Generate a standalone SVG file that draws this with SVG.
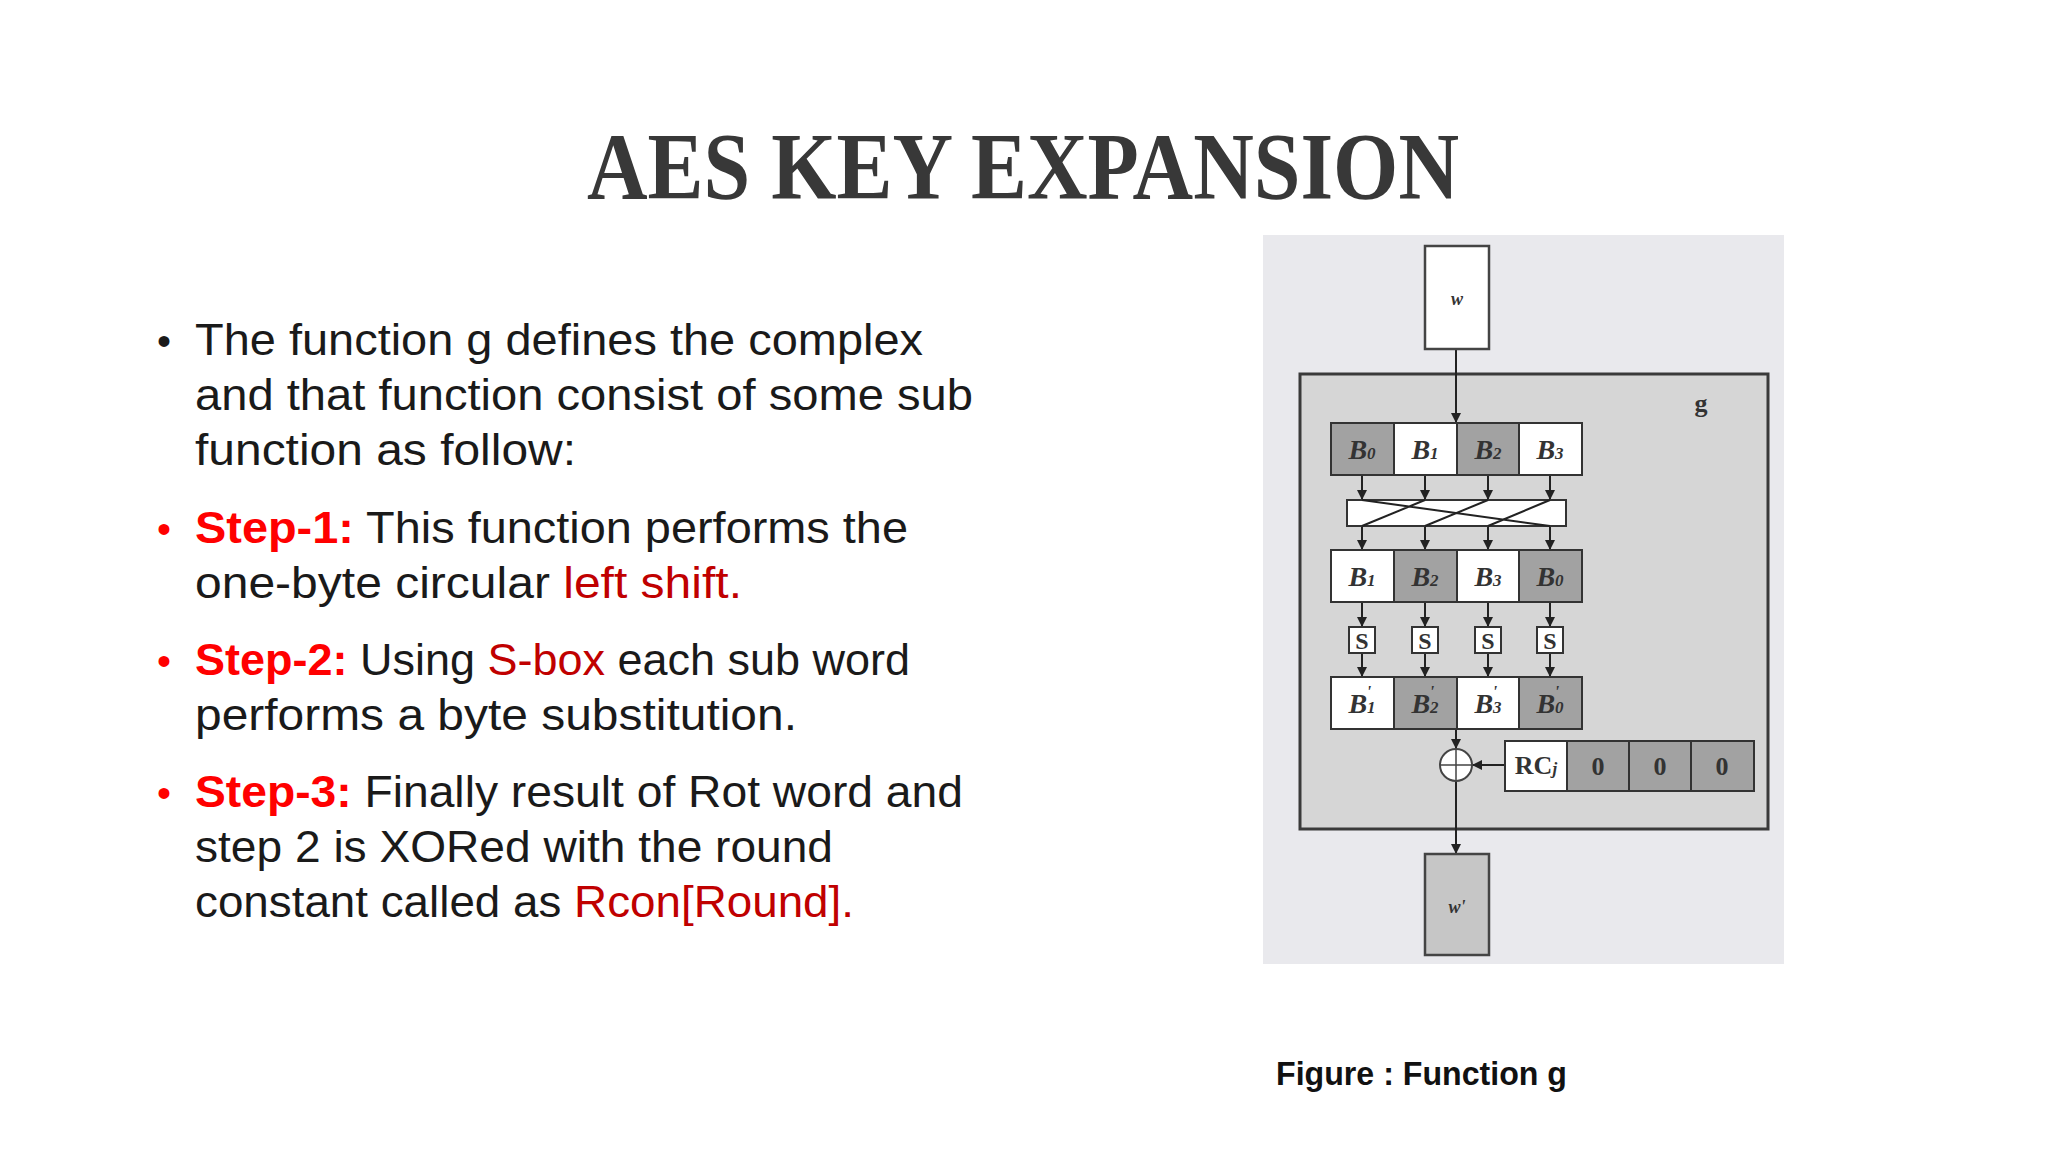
<svg xmlns="http://www.w3.org/2000/svg" width="2048" height="1152" viewBox="0 0 2048 1152">
<defs>
<marker id="ah" viewBox="0 0 10 10" refX="10" refY="5" markerWidth="5" markerHeight="5" orient="auto"><path d="M0,0 L10,5 L0,10 z" fill="#222"/></marker>
<style>
.body{font-family:"Liberation Sans",Arial,sans-serif;font-size:44px;fill:#1a1a1a}
.step{fill:#ff0000;font-weight:bold}
.dr{fill:#c00000}
.cell{stroke:#333;stroke-width:2}
.g{fill:#a2a2a2}.w{fill:#ffffff}
.bl{font-family:"Liberation Serif",serif;font-weight:bold;font-style:italic;font-size:28px;fill:#333;text-anchor:middle}
.sm{font-size:17px}
.ln{stroke:#222;stroke-width:2;fill:none}
</style>
</defs>
<rect width="2048" height="1152" fill="#ffffff"/>
<text x="1023" y="199" text-anchor="middle" font-family="Liberation Serif,serif" font-weight="bold" font-size="96" fill="#383838" textLength="872" lengthAdjust="spacingAndGlyphs">AES KEY EXPANSION</text>
<g id="bullets" class="body">
<text x="157" y="355" font-size="40">•</text>
<text x="195" y="355" textLength="728" lengthAdjust="spacingAndGlyphs">The function g defines the complex</text>
<text x="195" y="410" textLength="778" lengthAdjust="spacingAndGlyphs">and that function consist of some sub</text>
<text x="195" y="465" textLength="381" lengthAdjust="spacingAndGlyphs">function as follow:</text>
<text x="157" y="543" font-size="40" fill="#ff0000">•</text>
<text x="195" y="543" textLength="713" lengthAdjust="spacingAndGlyphs"><tspan class="step">Step-1:</tspan> This function performs the</text>
<text x="195" y="598" textLength="547" lengthAdjust="spacingAndGlyphs">one-byte circular <tspan class="dr">left shift.</tspan></text>
<text x="157" y="675" font-size="40" fill="#ff0000">•</text>
<text x="195" y="675" textLength="715" lengthAdjust="spacingAndGlyphs"><tspan class="step">Step-2:</tspan> Using <tspan class="dr">S-box</tspan> each sub word</text>
<text x="195" y="730" textLength="602" lengthAdjust="spacingAndGlyphs">performs a byte substitution.</text>
<text x="157" y="807" font-size="40" fill="#ff0000">•</text>
<text x="195" y="807" textLength="768" lengthAdjust="spacingAndGlyphs"><tspan class="step">Step-3:</tspan> Finally result of Rot word and</text>
<text x="195" y="862" textLength="638" lengthAdjust="spacingAndGlyphs">step 2 is XORed with the round</text>
<text x="195" y="917" textLength="659" lengthAdjust="spacingAndGlyphs">constant called as <tspan class="dr">Rcon[Round].</tspan></text>
</g>
<rect x="1263" y="235" width="521" height="729" fill="#e9e9ed"/>
<g id="gbox"><rect x="1300" y="374" width="468" height="455" fill="#d6d6d6" stroke="#3a3a3a" stroke-width="3"/>
<text x="1701" y="412" font-family="Liberation Serif,serif" font-weight="bold" font-size="26" fill="#333" text-anchor="middle">g</text></g>
<g id="connectors">
<line class="ln" x1="1456" y1="349" x2="1456" y2="423" marker-end="url(#ah)"/>
<line class="ln" x1="1362" y1="475" x2="1362" y2="500" marker-end="url(#ah)"/>
<line class="ln" x1="1425" y1="475" x2="1425" y2="500" marker-end="url(#ah)"/>
<line class="ln" x1="1488" y1="475" x2="1488" y2="500" marker-end="url(#ah)"/>
<line class="ln" x1="1550" y1="475" x2="1550" y2="500" marker-end="url(#ah)"/>
<line class="ln" x1="1362" y1="526" x2="1362" y2="550" marker-end="url(#ah)"/>
<line class="ln" x1="1425" y1="526" x2="1425" y2="550" marker-end="url(#ah)"/>
<line class="ln" x1="1488" y1="526" x2="1488" y2="550" marker-end="url(#ah)"/>
<line class="ln" x1="1550" y1="526" x2="1550" y2="550" marker-end="url(#ah)"/>
<line class="ln" x1="1362" y1="602" x2="1362" y2="627" marker-end="url(#ah)"/>
<line class="ln" x1="1425" y1="602" x2="1425" y2="627" marker-end="url(#ah)"/>
<line class="ln" x1="1488" y1="602" x2="1488" y2="627" marker-end="url(#ah)"/>
<line class="ln" x1="1550" y1="602" x2="1550" y2="627" marker-end="url(#ah)"/>
<line class="ln" x1="1362" y1="653" x2="1362" y2="677" marker-end="url(#ah)"/>
<line class="ln" x1="1425" y1="653" x2="1425" y2="677" marker-end="url(#ah)"/>
<line class="ln" x1="1488" y1="653" x2="1488" y2="677" marker-end="url(#ah)"/>
<line class="ln" x1="1550" y1="653" x2="1550" y2="677" marker-end="url(#ah)"/>
<line class="ln" x1="1456" y1="729" x2="1456" y2="749" marker-end="url(#ah)"/>
<line class="ln" x1="1505" y1="765" x2="1472" y2="765" marker-end="url(#ah)"/>
<line class="ln" x1="1456" y1="781" x2="1456" y2="854" marker-end="url(#ah)"/>
</g>
<g id="w"><rect x="1425" y="246" width="64" height="103" fill="#fff" stroke="#444" stroke-width="2.5"/>
<text x="1457" y="305" font-family="Liberation Serif,serif" font-weight="bold" font-style="italic" font-size="18" fill="#333" text-anchor="middle">w</text></g>
<g id="row1">
<rect class="cell g" x="1331" y="423" width="63" height="52"/><rect class="cell w" x="1394" y="423" width="63" height="52"/><rect class="cell g" x="1457" y="423" width="62" height="52"/><rect class="cell w" x="1519" y="423" width="63" height="52"/>
<text class="bl" x="1362" y="459">B<tspan class="sm">0</tspan></text><text class="bl" x="1425" y="459">B<tspan class="sm">1</tspan></text><text class="bl" x="1488" y="459">B<tspan class="sm">2</tspan></text><text class="bl" x="1550" y="459">B<tspan class="sm">3</tspan></text>
</g>
<g id="rot"><rect x="1347" y="500" width="219" height="26" fill="#fff" stroke="#333" stroke-width="2"/>
<path class="ln" d="M1362,500 L1550,526 M1425,500 L1362,526 M1488,500 L1425,526 M1550,500 L1488,526" stroke-width="1.5"/></g>
<g id="row2">
<rect class="cell w" x="1331" y="550" width="63" height="52"/><rect class="cell g" x="1394" y="550" width="63" height="52"/><rect class="cell w" x="1457" y="550" width="62" height="52"/><rect class="cell g" x="1519" y="550" width="63" height="52"/>
<text class="bl" x="1362" y="586">B<tspan class="sm">1</tspan></text><text class="bl" x="1425" y="586">B<tspan class="sm">2</tspan></text><text class="bl" x="1488" y="586">B<tspan class="sm">3</tspan></text><text class="bl" x="1550" y="586">B<tspan class="sm">0</tspan></text>
</g>
<g id="sboxes" font-family="Liberation Serif,serif" font-weight="bold" font-size="24" fill="#333" text-anchor="middle">
<rect class="cell w" x="1349" y="627" width="26" height="26" stroke-width="1.5"/><rect class="cell w" x="1412" y="627" width="26" height="26" stroke-width="1.5"/><rect class="cell w" x="1475" y="627" width="26" height="26" stroke-width="1.5"/><rect class="cell w" x="1537" y="627" width="26" height="26" stroke-width="1.5"/>
<text x="1362" y="649">S</text><text x="1425" y="649">S</text><text x="1488" y="649">S</text><text x="1550" y="649">S</text>
</g>
<g id="row3">
<rect class="cell w" x="1331" y="677" width="63" height="52"/><rect class="cell g" x="1394" y="677" width="63" height="52"/><rect class="cell w" x="1457" y="677" width="62" height="52"/><rect class="cell g" x="1519" y="677" width="63" height="52"/>
<text class="bl" x="1362" y="713">B<tspan class="sm">1</tspan><tspan class="sm" dx="-9" dy="-16">'</tspan></text><text class="bl" x="1425" y="713">B<tspan class="sm">2</tspan><tspan class="sm" dx="-9" dy="-16">'</tspan></text><text class="bl" x="1488" y="713">B<tspan class="sm">3</tspan><tspan class="sm" dx="-9" dy="-16">'</tspan></text><text class="bl" x="1550" y="713">B<tspan class="sm">0</tspan><tspan class="sm" dx="-9" dy="-16">'</tspan></text>
</g>
<g id="xor"><circle cx="1456" cy="765" r="16" fill="#fff" stroke="#444" stroke-width="2"/><path d="M1440,765 H1472 M1456,749 V781" stroke="#444" stroke-width="1.5"/></g>
<g id="rc" font-family="Liberation Serif,serif" font-weight="bold" font-size="26" fill="#333" text-anchor="middle">
<rect class="cell w" x="1505" y="741" width="62" height="50"/><rect class="cell g" x="1567" y="741" width="62" height="50"/><rect class="cell g" x="1629" y="741" width="62" height="50"/><rect class="cell g" x="1691" y="741" width="63" height="50"/>
<text x="1536" y="774">RC<tspan font-size="17" font-style="italic">j</tspan></text><text x="1598" y="775">0</text><text x="1660" y="775">0</text><text x="1722" y="775">0</text>
</g>
<g id="wprime"><rect x="1425" y="854" width="64" height="101" fill="#c6c6c6" stroke="#444" stroke-width="2.5"/>
<text x="1457" y="913" font-family="Liberation Serif,serif" font-weight="bold" font-style="italic" font-size="18" fill="#333" text-anchor="middle">w'</text></g>
<text x="1276" y="1085" font-family="Liberation Sans,Arial,sans-serif" font-weight="bold" font-size="33" fill="#111" textLength="291" lengthAdjust="spacingAndGlyphs">Figure : Function g</text>
</svg>
